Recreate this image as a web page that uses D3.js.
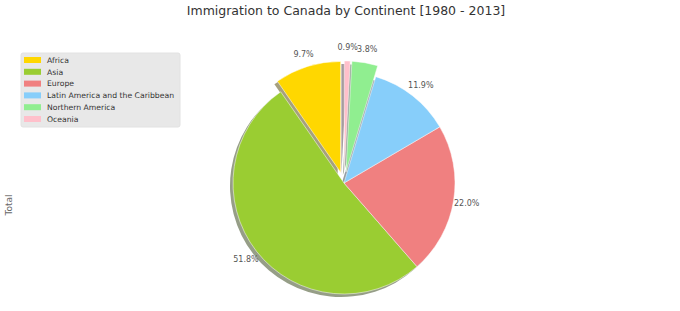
<!DOCTYPE html>
<html>
<head>
<meta charset="utf-8">
<script src="https://cdn.jsdelivr.net/npm/d3@7"></script>
<style>
  body { margin: 0; background: #fff; }
  text { font-family: "DejaVu Sans", sans-serif; }
</style>
</head>
<body>
<div id="chart"></div>
<script>
var continents = ["Africa", "Asia", "Europe", "Latin America and the Caribbean", "Northern America", "Oceania"];
var totals = [618948, 3317794, 1410947, 765148, 241142, 55174];
var colors = ["gold", "yellowgreen", "lightcoral", "lightskyblue", "lightgreen", "pink"];
var explode = [0.1, 0, 0, 0, 0.1, 0.1];

var width = 680, height = 311;
var cx = 344, cy = 183, r = 111;

var svg = d3.select("#chart")
  .append("svg")
  .attr("width", width)
  .attr("height", height);

var data = continents.map(function(c, i) {
  return {name: c, value: totals[i], color: colors[i], explode: explode[i]};
});

// matplotlib: startangle 90, counterclockwise -> negative angles in d3
var pie = d3.pie()
  .sort(null)
  .value(function(d) { return d.value; })
  .startAngle(0)
  .endAngle(-2 * Math.PI);

var arcs = pie(data);
var sum = d3.sum(totals);

var arc = d3.arc().innerRadius(0).outerRadius(r);

function offset(d) {
  var mid = (d.startAngle + d.endAngle) / 2;
  var e = d.data.explode * r;
  return [e * Math.sin(mid), -e * Math.cos(mid)];
}

var g = svg.append("g")
  .attr("transform", "translate(" + cx + "," + cy + ")");

// shadows
g.selectAll("path.shadow")
  .data(arcs)
  .enter()
  .append("path")
  .attr("class", "shadow")
  .attr("d", arc)
  .attr("transform", function(d) {
    var o = offset(d);
    return "translate(" + (o[0] - 3) + "," + (o[1] + 3) + ")";
  })
  .attr("fill", function(d) {
    var c = d3.rgb(d.data.color);
    return d3.rgb(c.r * 0.3, c.g * 0.3, c.b * 0.3);
  })
  .attr("opacity", 0.5);

// wedges
g.selectAll("path.wedge")
  .data(arcs)
  .enter()
  .append("path")
  .attr("class", "wedge")
  .attr("d", arc)
  .attr("transform", function(d) {
    var o = offset(d);
    return "translate(" + o[0] + "," + o[1] + ")";
  })
  .attr("fill", function(d) { return d.data.color; })
  .attr("stroke", "#fff")
  .attr("stroke-width", 0.5);

// percentage labels
var lab = d3.arc().innerRadius(r * 1.12).outerRadius(r * 1.12);
g.selectAll("text.pct")
  .data(arcs)
  .enter()
  .append("text")
  .attr("class", "pct")
  .attr("transform", function(d) {
    var o = offset(d);
    var p = lab.centroid(d);
    return "translate(" + (p[0] + o[0]) + "," + (p[1] + o[1]) + ")";
  })
  .attr("text-anchor", "middle")
  .attr("dy", "0.35em")
  .attr("font-size", 8)
  .attr("fill", "#555")
  .text(function(d) { return (d.data.value / sum * 100).toFixed(1) + "%"; });

// title
svg.append("text")
  .attr("x", 346)
  .attr("y", 15)
  .attr("text-anchor", "middle")
  .attr("font-size", 12.5)
  .attr("fill", "#333")
  .text("Immigration to Canada by Continent [1980 - 2013]");

// y label
svg.append("text")
  .attr("transform", "translate(12,205) rotate(-90)")
  .attr("text-anchor", "middle")
  .attr("font-size", 9)
  .attr("fill", "#666")
  .text("Total");

// legend
var legend = svg.append("g").attr("transform", "translate(21,53)");
legend.append("rect")
  .attr("width", 159)
  .attr("height", 74)
  .attr("rx", 2)
  .attr("fill", "#e8e8e8")
  .attr("stroke", "#e2e2e2");

var items = legend.selectAll("g.item")
  .data(data)
  .enter()
  .append("g")
  .attr("class", "item")
  .attr("transform", function(d, i) { return "translate(0," + (7 + i * 11.8) + ")"; });

items.append("rect")
  .attr("x", 3)
  .attr("y", -3)
  .attr("width", 17)
  .attr("height", 6)
  .attr("fill", function(d) { return d.color; });

items.append("text")
  .attr("x", 26)
  .attr("dy", "0.35em")
  .attr("font-size", 7.7)
  .attr("fill", "#333")
  .text(function(d) { return d.name; });
</script>
</body>
</html>
